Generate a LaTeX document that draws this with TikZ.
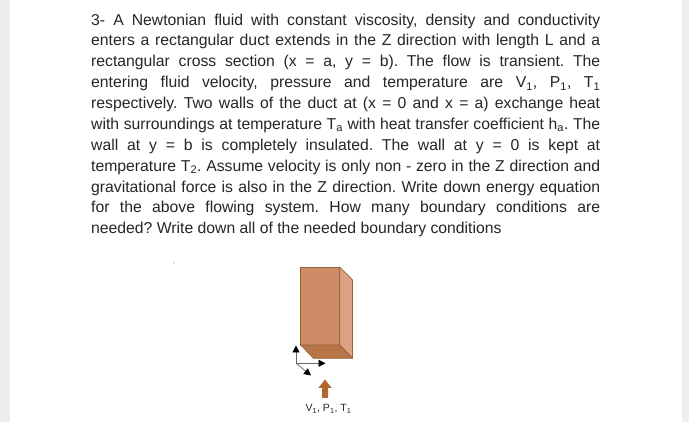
\documentclass[tikz,border=0pt]{standalone}
\usepackage{fontspec}
\setmainfont{Liberation Sans}
\usetikzlibrary{arrows.meta}
\definecolor{txt}{HTML}{262626}
\definecolor{strip}{HTML}{F1EDED}
\definecolor{front}{HTML}{CD8C66}
\definecolor{sidef}{HTML}{DCA283}
\definecolor{bottomf}{HTML}{B87648}
\definecolor{edge}{HTML}{9A6038}
\definecolor{flow}{HTML}{B5652F}
\tikzset{x=1pt,y=-1pt,
  jline/.style={anchor=west,inner sep=0pt,text=txt,font=\fontsize{15.75}{18}\selectfont},
  axisline/.style={draw=black!60,line width=0.7pt,-{Triangle[length=7pt,width=7pt,fill=black,color=black]}},
  faceedge/.style={draw=edge,line width=0.7pt,line join=round}}
\newcommand{\jl}[1]{\makebox[509pt][s]{\strut #1}}
\newcommand{\sbx}[1]{\textsubscript{#1}}
\frenchspacing
\begin{document}
\begin{tikzpicture}
\useasboundingbox (0,0) rectangle (689,422);
\fill[white] (0,0) rectangle (689,422);
\fill[strip] (0,0) rectangle (10,422);
\fill[strip] (682,0) rectangle (689,422);
\node[jline] (l1) at (91,21.5) {\jl{3- A Newtonian fluid with constant viscosity, density and conductivity}};
\node[jline] (l2) at (91,42) {\jl{enters a rectangular duct extends in the Z direction with length L and a}};
\node[jline] (l3) at (91,63) {\jl{rectangular cross section (x = a, y = b). The flow is transient. The}};
\node[jline] (l4) at (91,84) {\jl{entering fluid velocity, pressure and temperature are V\sbx{1}, P\sbx{1}, T\sbx{1}}};
\node[jline] (l5) at (91,104.5) {\jl{respectively. Two walls of the duct at (x = 0 and x = a) exchange heat}};
\node[jline] (l6) at (91,125.5) {\jl{with surroundings at temperature T\sbx{a} with heat transfer coefficient h\sbx{a}. The}};
\node[jline] (l7) at (91,146.5) {\jl{wall at y = b is completely insulated. The wall at y = 0 is kept at}};
\node[jline] (l8) at (91,167.5) {\jl{temperature T\sbx{2}. Assume velocity is only non - zero in the Z direction and}};
\node[jline] (l9) at (91,188.5) {\jl{gravitational force is also in the Z direction. Write down energy equation}};
\node[jline] (l10) at (91,209) {\jl{for the above flowing system. How many boundary conditions are}};
\node[jline] (l11) at (91,230) {\strut needed? Write down all of the needed boundary conditions};
\fill[black!55] (174,263) circle (0.7);
% duct
\filldraw[faceedge,fill=front] (300.7,267) rectangle (339.7,345);
\filldraw[faceedge,fill=sidef] (339.7,267) -- (352.5,280) -- (352.5,358.3) -- (339.7,345) -- cycle;
\filldraw[faceedge,fill=bottomf] (300.7,345) -- (339.7,345) -- (352.5,358.3) -- (313.5,358.3) -- cycle;
% axes
\coordinate (o) at (296,363.3);
\coordinate (ay) at (296,345.5);
\coordinate (ax) at (325.5,363.3);
\coordinate (az) at (311,375.5);
\draw[axisline] (o) -- (ay);
\draw[axisline] (o) -- (ax);
\draw[axisline] (o) -- (az);
% inflow arrow
\fill[flow] (322,398) -- (322,388) -- (318.3,388) -- (325,379.5) -- (331.7,388) -- (328,388) -- (328,398) -- cycle;
\node[inner sep=0pt,text=txt,font=\fontsize{10.5}{12}\selectfont] (inlet) at (328.5,409) {V\sbx{1}, P\sbx{1}, T\sbx{1}};
\end{tikzpicture}
\end{document}
